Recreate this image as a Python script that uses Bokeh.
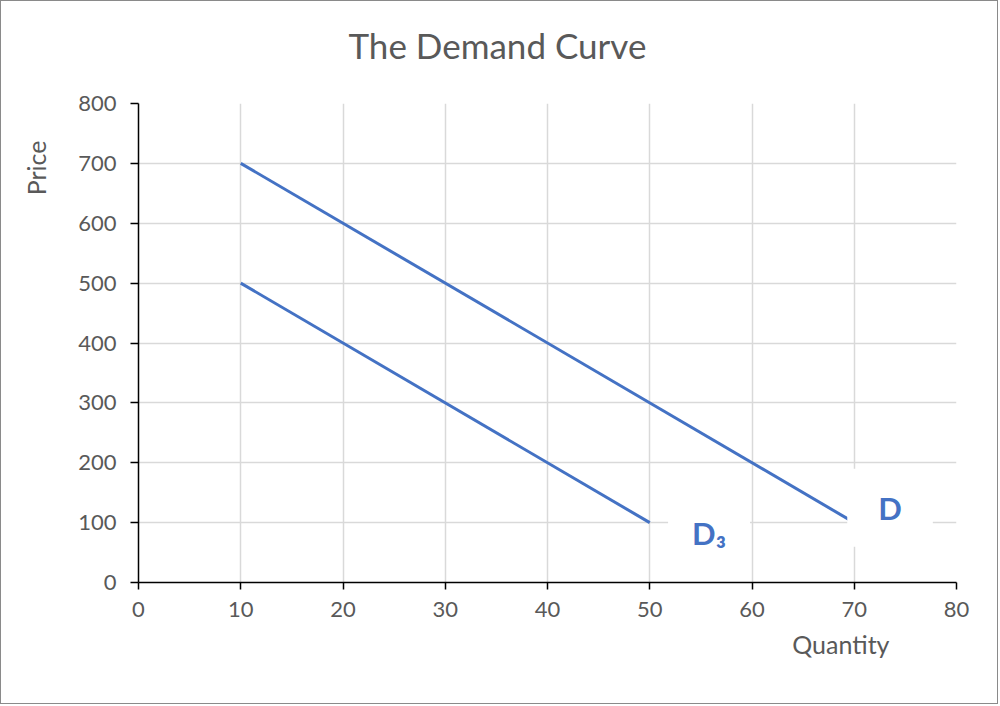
from bokeh.plotting import figure
from bokeh.models import Range1d, FixedTicker, Label, Title
from bokeh.embed import file_html
from bokeh.resources import INLINE

# ---- data ----
d_quantity = [10, 70]
d_price = [700, 100]
d3_quantity = [10, 50]
d3_price = [500, 100]
x_ticks = [0, 10, 20, 30, 40, 50, 60, 70, 80]
y_ticks = [0, 100, 200, 300, 400, 500, 600, 700, 800]
title_text = "The Demand Curve"
x_title = "Quantity"
y_title = "Price"
d_label = "D"
d3_label = "D₃"

FONT = "Lato"
BLUE = "#4472C4"
GREY_TXT = "#595959"

p = figure(width=998, height=704, output_backend="svg", toolbar_location=None,
           x_range=Range1d(0, 80), y_range=Range1d(0, 800))
p.styles = {"border": "1px solid #8a8a8a"}
p.min_border_left = 137
p.min_border_right = 43
p.min_border_top = 102
p.min_border_bottom = 123
p.outline_line_color = None
p.background_fill_color = "white"
p.border_fill_color = "white"

for ax, ticks in ((p.xaxis[0], x_ticks), (p.yaxis[0], y_ticks)):
    ax.ticker = FixedTicker(ticks=ticks)
    ax.axis_line_color = "black"
    ax.axis_line_width = 1.5
    ax.major_tick_line_color = "black"
    ax.major_tick_line_width = 1.5
    ax.major_tick_in = 0
    ax.minor_tick_line_color = None
    ax.major_label_text_font = FONT
    ax.major_label_text_font_size = "22px"
    ax.major_label_text_color = GREY_TXT
p.xaxis.major_tick_out = 7
p.yaxis.major_tick_out = 8
p.xaxis.major_label_standoff = 12
p.yaxis.major_label_standoff = 14

p.xgrid.ticker = FixedTicker(ticks=x_ticks)
p.ygrid.ticker = FixedTicker(ticks=y_ticks)
for g in (p.xgrid[0], p.ygrid[0]):
    g.grid_line_color = "#D9D9D9"
    g.grid_line_width = 1.5

p.line(d_quantity, d_price, line_color=BLUE, line_width=3)
p.line(d3_quantity, d3_price, line_color=BLUE, line_width=3)

p.add_layout(Label(x=73.5, y=125, text=d_label, text_font=FONT, text_font_style="bold",
                   text_font_size="31px", text_color=BLUE, text_align="center",
                   text_baseline="middle", background_fill_color="white",
                   padding=dict(left=31, right=31, top=20, bottom=20)))
p.add_layout(Label(x=55.8, y=83, text=d3_label, text_font=FONT, text_font_style="bold",
                   text_font_size="31px", text_color=BLUE, text_align="center",
                   text_baseline="middle", background_fill_color="white",
                   padding=dict(left=24, right=24, top=20, bottom=20)))

p.title = Title(text=title_text, align="left", offset=210, standoff=10,
                padding=dict(left=0, right=0, top=0, bottom=33),
                text_font=FONT, text_font_size="35px", text_font_style="normal",
                text_color=GREY_TXT)
p.add_layout(Title(text=x_title, align="right", offset=67, standoff=15,
                   text_font=FONT, text_font_size="25px", text_font_style="normal",
                   text_color=GREY_TXT), "below")
p.add_layout(Title(text=y_title, align="right", offset=37, standoff=0,
                   padding=dict(left=0, right=0, top=0, bottom=25),
                   text_font=FONT, text_font_size="25px", text_font_style="normal",
                   text_color=GREY_TXT), "left")

open("out.html", "w").write(file_html(p, INLINE))
